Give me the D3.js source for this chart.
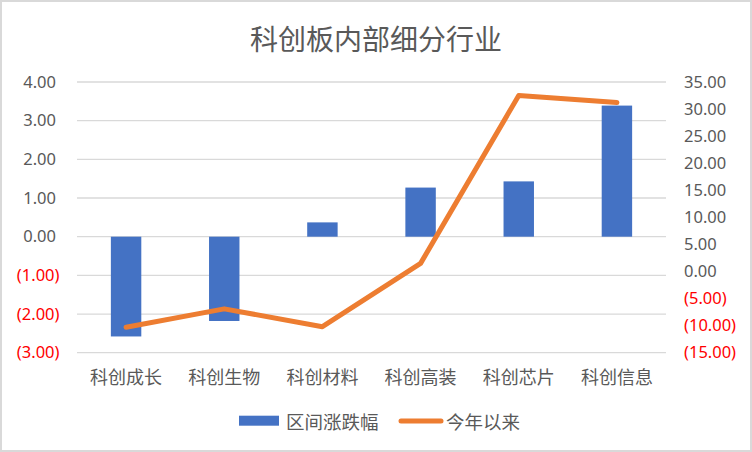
<!DOCTYPE html>
<html><head><meta charset="utf-8">
<script src="https://cdn.jsdelivr.net/npm/d3@7"></script>
<style>
html,body{margin:0;padding:0;background:#fff;}
svg{display:block;font-family:"Noto Sans CJK SC","Noto Sans",sans-serif;}
</style></head>
<body>
<svg id="chart" width="752" height="452"></svg>
<script>
const title = "科创板内部细分行业";
const categories = ["科创成长","科创生物","科创材料","科创高装","科创芯片","科创信息"];
const barValues = [-2.58, -2.18, 0.37, 1.27, 1.43, 3.39];   // 区间涨跌幅 (left axis)
const lineValues = [-10.3, -6.9, -10.2, 1.5, 32.5, 31.2];  // 今年以来 (right axis)
const leftTicks = [-3,-2,-1,0,1,2,3,4];
const rightTicks = [-15,-10,-5,0,5,10,15,20,25,30,35];
const seriesNames = ["区间涨跌幅","今年以来"];

const svg = d3.select("#chart");
const W = 752, H = 452;
const m = {left:77, right:752-666, top:82, bottom:452-352.7};
const gray = "#595959", red = "#FF0000";
const blue = "#4472C4", orange = "#ED7D31";

svg.append("rect").attr("x",1).attr("y",1).attr("width",W-2).attr("height",H-2)
  .attr("fill","#fff").attr("stroke","#d9d9d9").attr("stroke-width",2);

const x = d3.scaleBand().domain(categories).range([m.left, W-m.right]).paddingInner(0.69).paddingOuter(0.345);
const yL = d3.scaleLinear().domain([-3,4]).range([H-m.bottom, m.top]);
const yR = d3.scaleLinear().domain([-15,35]).range([H-m.bottom, m.top]);
const fmt = v => v < 0 ? "(" + d3.format(".2f")(-v) + ")" : d3.format(".2f")(v);

// gridlines
svg.append("g").selectAll("line").data(leftTicks).join("line")
  .attr("x1", m.left).attr("x2", W-m.right)
  .attr("y1", d=>yL(d)).attr("y2", d=>yL(d))
  .attr("stroke","#d9d9d9").attr("stroke-width",1.3);

// left axis
const axL = d3.axisLeft(yL).tickValues(leftTicks).tickFormat(fmt).tickSize(0).tickPadding(0);
const gL = svg.append("g").attr("transform","translate(59.5,0)").call(axL);
gL.select(".domain").remove();
gL.selectAll("text").attr("font-size",16.5).attr("font-family","'Noto Sans',sans-serif")
  .attr("fill", d=> d<0 ? red : gray)
  .attr("dx", d=> d<0 ? 0 : -3.5);

// right axis
const axR = d3.axisRight(yR).tickValues(rightTicks).tickFormat(fmt).tickSize(0).tickPadding(0);
const gR = svg.append("g").attr("transform","translate(684,0)").call(axR);
gR.select(".domain").remove();
gR.selectAll("text").attr("font-size",16.5).attr("font-family","'Noto Sans',sans-serif")
  .attr("fill", d=> d<0 ? red : gray);

// bars
svg.append("g").selectAll("rect").data(categories).join("rect")
  .attr("x", d=>x(d)).attr("width", x.bandwidth())
  .attr("y", (d,i)=>Math.min(yL(barValues[i]), yL(0)))
  .attr("height", (d,i)=>Math.abs(yL(barValues[i]) - yL(0)))
  .attr("fill", blue);

// line
const line = d3.line().x((d,i)=>x(categories[i]) + x.bandwidth()/2).y(d=>yR(d));
svg.append("path").datum(lineValues).attr("d", line)
  .attr("fill","none").attr("stroke",orange).attr("stroke-width",5)
  .attr("stroke-linejoin","round").attr("stroke-linecap","round");

// category labels
const xAxis = d3.axisBottom(x).tickSize(0).tickPadding(0);
const gX = svg.append("g").attr("transform","translate(0,378)").call(xAxis);
gX.select(".domain").remove();
gX.selectAll("text").attr("font-size",18).attr("fill",gray)
  .attr("font-family","'Noto Sans CJK SC',sans-serif").attr("dy","0.35em");

// title
svg.append("text").attr("x",376).attr("y",38).attr("text-anchor","middle")
  .attr("dominant-baseline","central").attr("font-size",28).attr("fill",gray).text(title);

// legend
const lg = svg.append("g");
lg.append("rect").attr("x",239).attr("y",415.7).attr("width",40).attr("height",10).attr("fill",blue);
lg.append("text").attr("x",286).attr("y",421).attr("dominant-baseline","central")
  .attr("font-size",18.5).attr("fill",gray).text(seriesNames[0]);
lg.append("line").attr("x1",401).attr("x2",441).attr("y1",421).attr("y2",421)
  .attr("stroke",orange).attr("stroke-width",5).attr("stroke-linecap","round");
lg.append("text").attr("x",446).attr("y",421).attr("dominant-baseline","central")
  .attr("font-size",18.5).attr("fill",gray).text(seriesNames[1]);
</script>
</body></html>
